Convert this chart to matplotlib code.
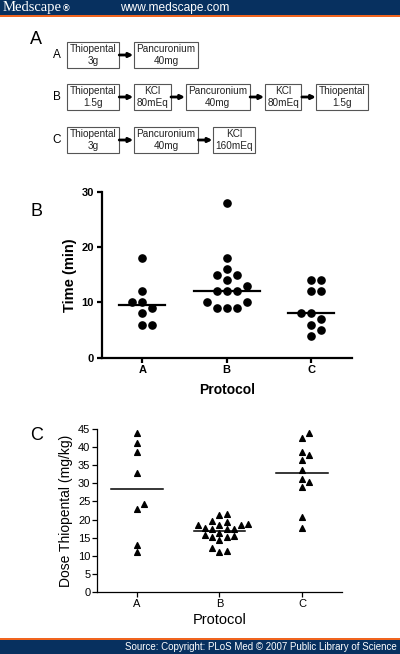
import numpy as np
import matplotlib.pyplot as plt
from matplotlib.patches import Rectangle

plt.rcParams['font.family'] = ['Liberation Sans', 'DejaVu Sans']

W, H = 400, 654

# Panel A: the three protocols
protocol_names = ['A', 'B', 'C']
protocol_steps = [
    [('Thiopental', '3g'), ('Pancuronium', '40mg')],
    [('Thiopental', '1.5g'), ('KCl', '80mEq'), ('Pancuronium', '40mg'),
     ('KCl', '80mEq'), ('Thiopental', '1.5g')],
    [('Thiopental', '3g'), ('Pancuronium', '40mg'), ('KCl', '160mEq')],
]

# Panel B: time to death (min)
time_A = [6, 6, 8, 9, 10, 10, 12, 18]
time_B = [9, 9, 9, 10, 10, 12, 12, 12, 13, 14, 15, 15, 16, 18, 28]
time_C = [4, 5, 6, 7, 8, 8, 12, 12, 14, 14]

# Panel C: thiopental dose (mg/kg)
dose_A = [10.9, 12.9, 22.9, 24.3, 32.8, 38.6, 41.1, 43.9]
dose_B = [11.1, 11.4, 12.0, 14.3, 15.1, 15.1, 15.4, 15.7, 16.3, 17.3, 17.3,
          17.3, 17.6, 18.5, 18.5, 18.5, 18.8, 19.4, 19.7, 21.2, 21.4]
dose_C = [17.7, 20.8, 29.1, 30.5, 31.1, 33.7, 36.5, 37.9, 38.6, 42.7, 43.9]

groups = ['A', 'B', 'C']

NAVY = '#07305f'
ORANGE = '#f0641e'


def px_axes(fig, left, top, right, bottom):
    return fig.add_axes([left / W, 1 - bottom / H, (right - left) / W, (bottom - top) / H])


def swarm(ax, values, center, step_px, min_dist):
    # simple beeswarm: put each point as close to the centre as it fits
    trans = ax.transData
    vals = np.asarray(values, dtype=float)
    ys = trans.transform(np.column_stack([np.full(len(vals), center), vals]))[:, 1]
    placed = []
    offs = np.zeros(len(vals))
    for i in np.argsort(vals, kind='stable'):
        for k in [0, 1, -1, 2, -2, 3, -3, 4, -4, 5, -5]:
            x = k * step_px
            if all(np.hypot(x - px, ys[i] - py) >= min_dist for px, py in placed):
                break
        placed.append((x, ys[i]))
        offs[i] = x
    x0 = trans.transform((center, 0))[0]
    inv = trans.inverted()
    return np.array([inv.transform((x0 + o, 0))[0] for o in offs])


fig = plt.figure(figsize=(4, 6.54), dpi=100)
renderer = fig.canvas.get_renderer()

# background layer in pixel coordinates: banners + flow chart
bg = fig.add_axes([0, 0, 1, 1])
bg.set_xlim(0, W)
bg.set_ylim(H, 0)
bg.axis('off')

bg.add_patch(Rectangle((0, 0), W, 15, color=NAVY, lw=0))
bg.add_patch(Rectangle((0, 15), W, 2.3, color=ORANGE, lw=0))
bg.add_patch(Rectangle((0, 637.5), W, 2.5, color=ORANGE, lw=0))
bg.add_patch(Rectangle((0, 640), W, 14, color=NAVY, lw=0))
logo = bg.text(3, 8, 'Medscape', color='white', fontsize=10.5,
               family='Liberation Serif', va='center', ha='left')
logo_w = logo.get_window_extent(renderer).width
bg.text(3 + logo_w + 0.5, 8.5, '\u00ae', color='white', fontsize=6.5,
        fontweight='bold', va='center', ha='left')
bg.text(120, 8, 'www.medscape.com', color='white', fontsize=8.6,
        va='center', ha='left')
bg.text(397, 647, 'Source: Copyright: PLoS Med \u00a9 2007 Public Library of Science',
        color='white', fontsize=7, va='center', ha='right')

# panel letters
bg.text(30, 40, 'A', fontsize=13, va='center', ha='left')
bg.text(30, 211, 'B', fontsize=13, va='center', ha='left')
bg.text(30, 436, 'C', fontsize=13, va='center', ha='left')

# flow chart
row_tops = [42, 84, 127]
box_h = 26
for name, steps, top in zip(protocol_names, protocol_steps, row_tops):
    ymid = top + box_h / 2
    bg.text(57, ymid, name, fontsize=8.5, ha='center', va='center')
    x = 67
    prev_right = None
    for drug, amount in steps:
        t = bg.text(0, ymid, f'{drug}\n{amount}', fontsize=7.2, ha='center',
                    va='center', linespacing=1.2, color='#222222')
        w = t.get_window_extent(renderer).width + 5
        t.set_x(x + w / 2)
        bg.add_patch(Rectangle((x, top), w, box_h, fill=False,
                               edgecolor='#555555', lw=0.8))
        if prev_right is not None:
            bg.annotate('', xy=(x - 0.5, ymid), xytext=(prev_right + 0.5, ymid),
                        arrowprops=dict(arrowstyle='-|>', color='black', lw=2,
                                        mutation_scale=6, shrinkA=0, shrinkB=0))
        prev_right = x + w
        x = x + w + 15

pos = np.arange(1, 4)

# Panel B
axB = px_axes(fig, 101.7, 191.7, 351.7, 357.7)
axB.set_xlim(0.52, 3.48)
axB.set_ylim(0, 30)
for sp in ['top', 'right']:
    axB.spines[sp].set_visible(False)
for sp in ['left', 'bottom']:
    axB.spines[sp].set_linewidth(1.6)
axB.set_yticks([0, 10, 20, 30])
axB.set_xticks(pos)
axB.set_xticklabels(groups)
axB.tick_params(direction='out', length=3.5, width=1.6, labelsize=8, pad=2)
for lab in axB.get_xticklabels() + axB.get_yticklabels():
    lab.set_fontweight('bold')
for p, vals in zip(pos, [time_A, time_B, time_C]):
    xs = swarm(axB, vals, p, 10, 7)
    axB.scatter(xs, vals, s=27, color='black', zorder=3, clip_on=False)
    half = np.max(np.abs(xs - p)) + 0.155
    med = np.median(vals)
    axB.plot([p - half, p + half], [med, med], color='black', lw=1.6, zorder=2)
axB.set_ylabel('Time (min)', fontsize=10.5, fontweight='bold')
axB.yaxis.set_label_coords(-0.10, 0.5)
axB.set_xlabel('Protocol', fontsize=10, fontweight='bold')
axB.xaxis.set_label_coords(0.5, -0.155)

# Panel C
axC = px_axes(fig, 97.3, 429.3, 341.7, 591.7)
axC.set_xlim(0.52, 3.48)
axC.set_ylim(0, 45)
for sp in ['top', 'right']:
    axC.spines[sp].set_visible(False)
for sp in ['left', 'bottom']:
    axC.spines[sp].set_linewidth(0.9)
axC.set_yticks(np.arange(0, 46, 5))
axC.set_xticks(pos)
axC.set_xticklabels(groups)
axC.tick_params(direction='out', length=3.5, width=0.9, labelsize=8, pad=1.5)
for p, vals in zip(pos, [dose_A, dose_B, dose_C]):
    xs = swarm(axC, vals, p, 7.2, 6.5)
    axC.scatter(xs, vals, s=17, marker='^', color='black', zorder=3, clip_on=False)
    mean = np.mean(vals)
    axC.plot([p - 0.31, p + 0.31], [mean, mean], color='black', lw=1.1, zorder=2)
axC.set_ylabel('Dose Thiopental (mg/kg)', fontsize=10)
axC.yaxis.set_label_coords(-0.098, 0.5)
axC.set_xlabel('Protocol', fontsize=10.5)
axC.xaxis.set_label_coords(0.5, -0.13)

fig.savefig('out.png', dpi=100)
